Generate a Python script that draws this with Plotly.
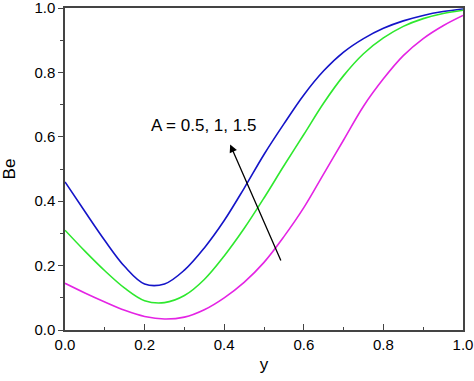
import plotly.graph_objects as go

x_vals = [0.0, 0.05, 0.1, 0.15, 0.2, 0.25, 0.3, 0.35, 0.4, 0.45, 0.5, 0.55, 0.6, 0.65, 0.7, 0.75, 0.8, 0.85, 0.9, 0.95, 1.0]
y_blue = [0.46, 0.368, 0.278, 0.197, 0.143, 0.143, 0.186, 0.255, 0.34, 0.44, 0.545, 0.64, 0.73, 0.805, 0.863, 0.905, 0.937, 0.96, 0.977, 0.989, 0.997]
y_green = [0.31, 0.245, 0.184, 0.13, 0.091, 0.085, 0.107, 0.157, 0.23, 0.315, 0.41, 0.51, 0.607, 0.705, 0.79, 0.858, 0.907, 0.943, 0.967, 0.983, 0.993]
y_mag = [0.145, 0.115, 0.087, 0.061, 0.042, 0.034, 0.04, 0.063, 0.1, 0.148, 0.21, 0.29, 0.38, 0.485, 0.59, 0.695, 0.78, 0.852, 0.905, 0.945, 0.977]

x_ticks = [0.0, 0.2, 0.4, 0.6, 0.8, 1.0]
y_ticks = [0.0, 0.2, 0.4, 0.6, 0.8, 1.0]
label_text = "A = 0.5, 1, 1.5"

FONT = "Liberation Sans, Arial"

fig = go.Figure()
for ys, col in [(y_blue, "#1414c8"), (y_green, "#2ee82e"), (y_mag, "#e424e4")]:
    fig.add_trace(go.Scatter(x=x_vals, y=ys, mode="lines",
                             line=dict(color=col, width=1.6, shape="spline", smoothing=1.0),
                             showlegend=False))

fig.add_annotation(x=0.415, y=0.576, ax=0.544, ay=0.211, xref="x", yref="y", axref="x", ayref="y",
                   text="", showarrow=True, arrowhead=2, arrowsize=1.2, arrowwidth=1.3, arrowcolor="black")
fig.add_annotation(x=0.349, y=0.634, xref="x", yref="y", text=label_text, showarrow=False,
                   font=dict(size=17, color="black", family=FONT))

axis_common = dict(showline=True, linecolor="#444", linewidth=1.5, mirror=True, showgrid=False, zeroline=False,
                   tickcolor="#444", tickwidth=1.2, tickfont=dict(size=15, color="black", family=FONT),
                   tickformat=".1f", automargin=False, ticklabeloverflow="allow")
fig.update_xaxes(range=[0, 1], tickvals=x_ticks, ticks="inside", ticklen=6,
                 minor=dict(dtick=0.1, ticks="inside", ticklen=3, tickcolor="#444", tickwidth=1.2),
                 title=dict(text="y", font=dict(size=17, color="black", family=FONT), standoff=6),
                 **axis_common)
fig.update_yaxes(range=[0, 1], tickvals=y_ticks, ticks="outside", ticklen=5,
                 minor=dict(dtick=0.1, ticks="outside", ticklen=3, tickcolor="#444", tickwidth=1.2),
                 title=dict(text="Be", font=dict(size=17, color="black", family=FONT), standoff=16),
                 **axis_common)
fig.update_layout(width=474, height=381, margin=dict(l=65, r=11, t=8, b=51),
                  plot_bgcolor="white", paper_bgcolor="white")
fig.write_html("out.html", config={"displayModeBar": False},
               post_script="document.body.style.margin='0';document.body.style.overflow='hidden';")
